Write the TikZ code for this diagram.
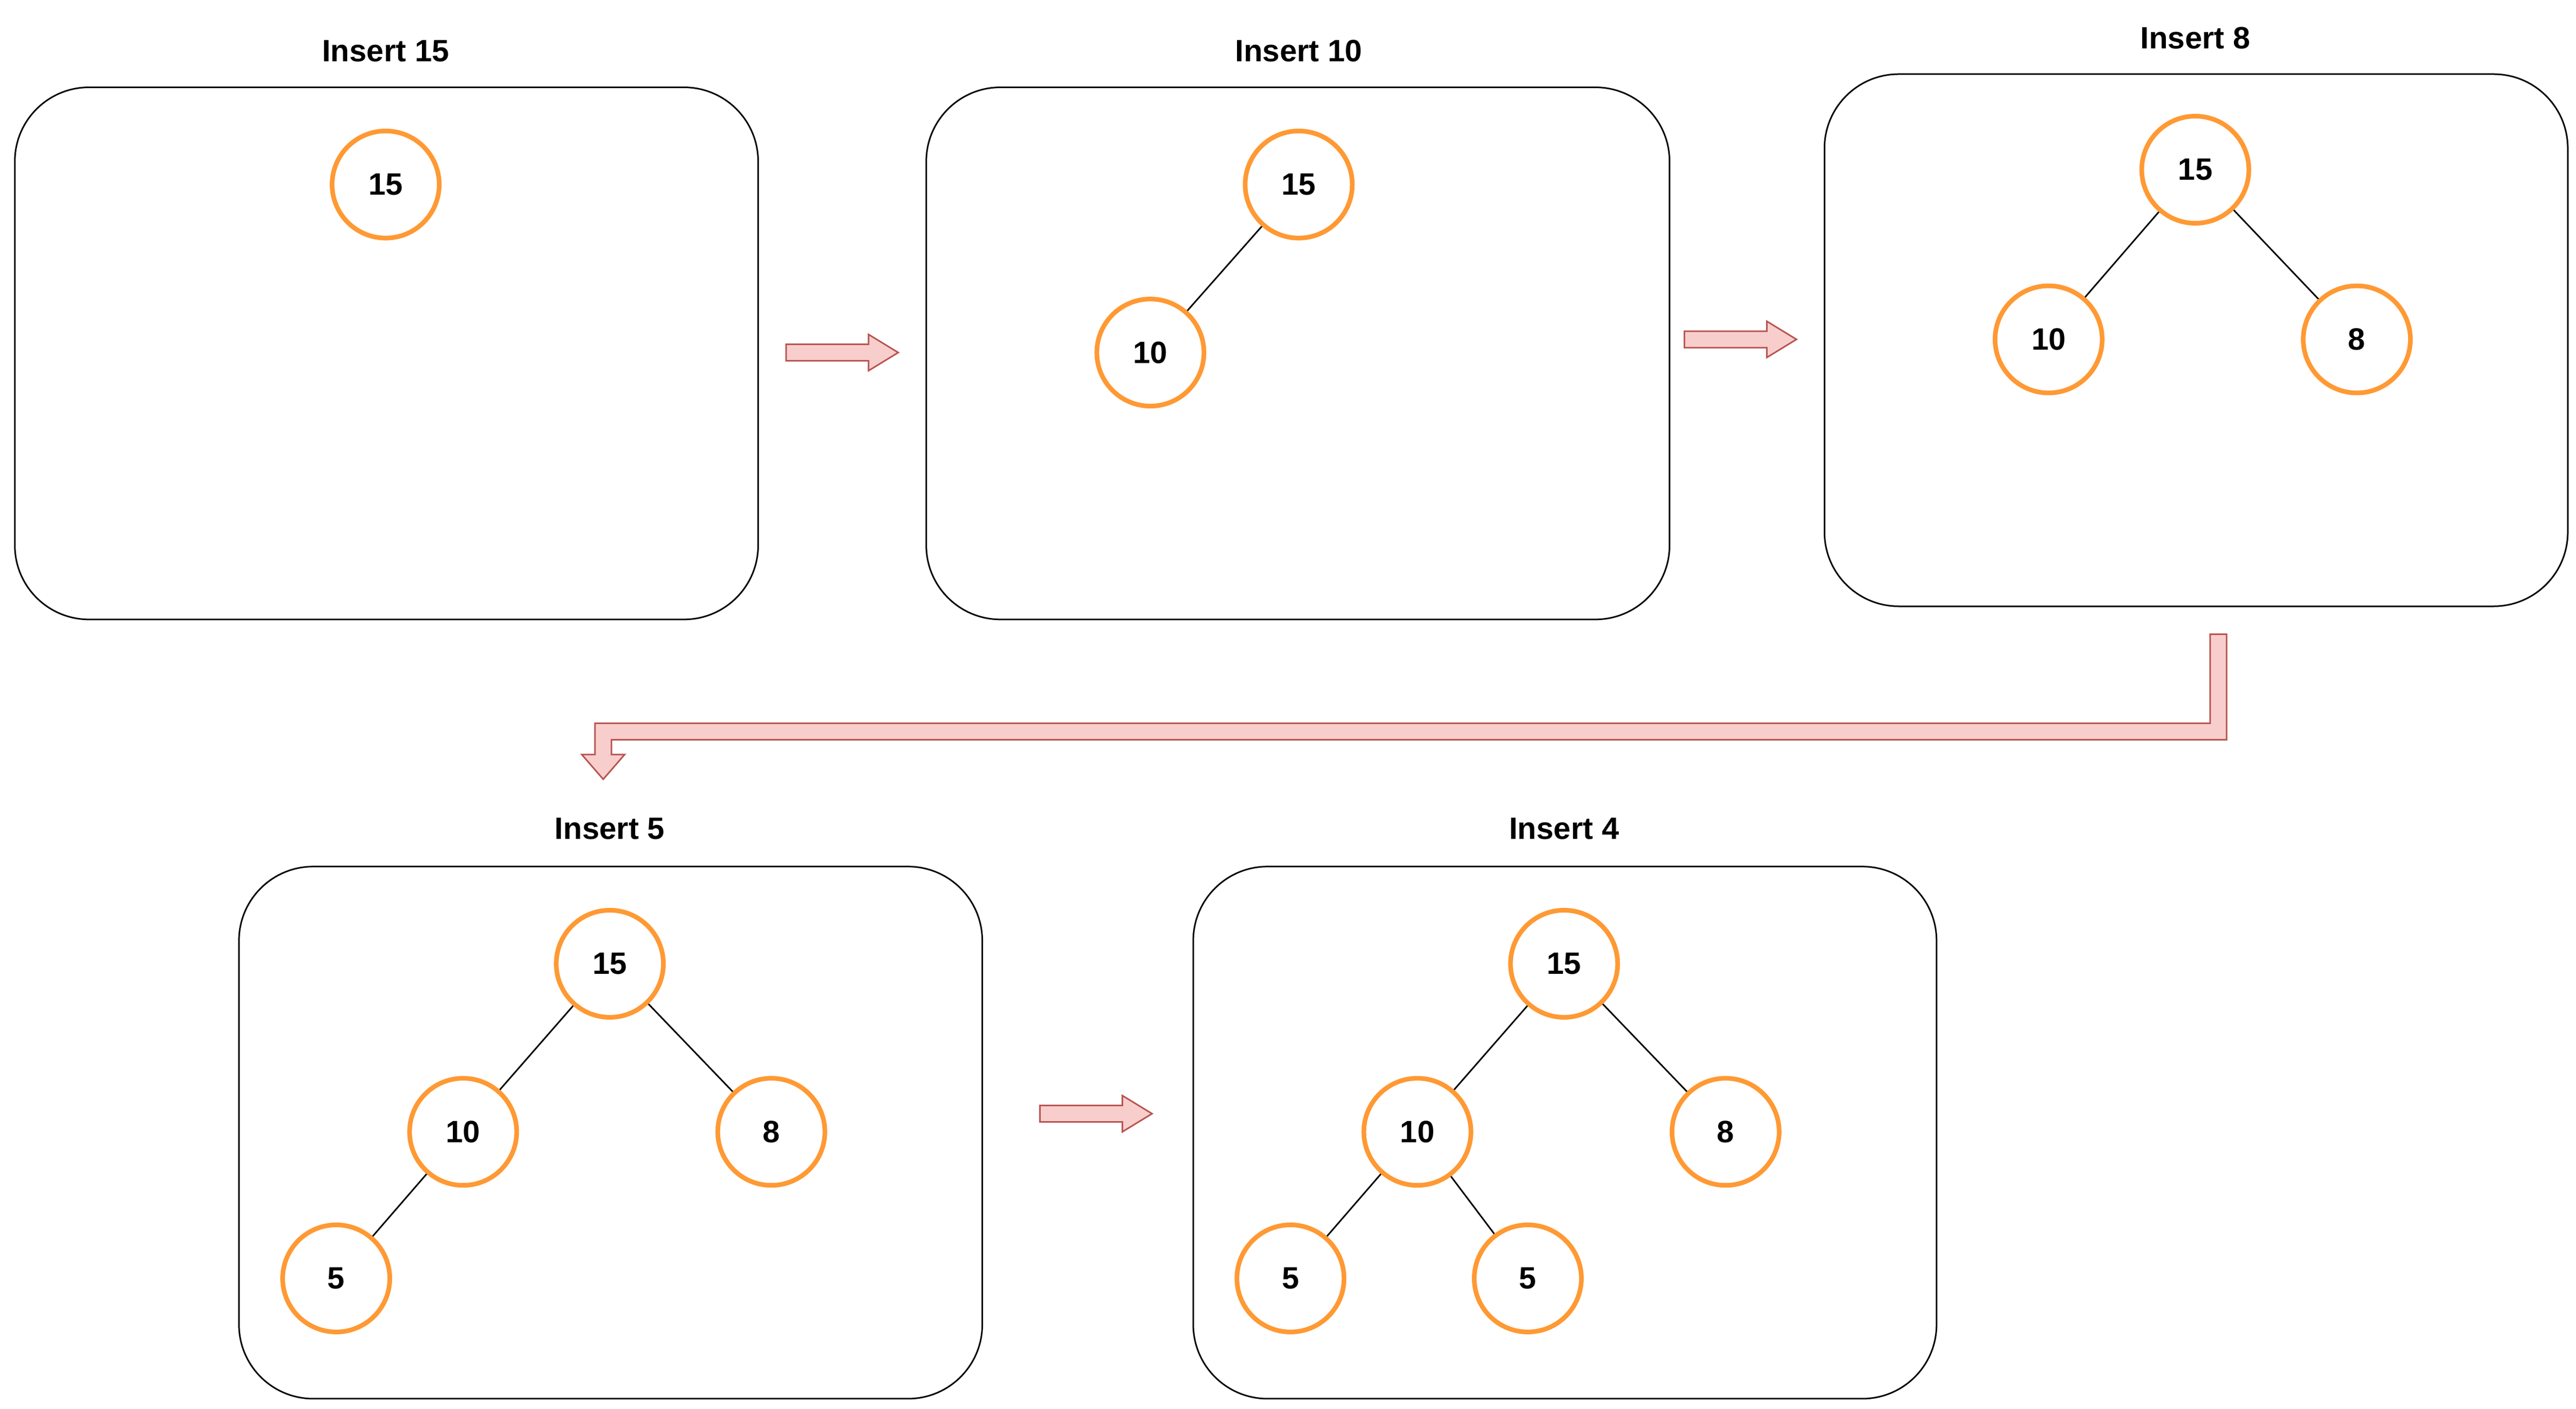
\documentclass[tikz,border=0pt]{standalone}
\usepackage{fontspec}
\setmainfont{Liberation Sans}
\definecolor{heaporange}{HTML}{FF9933}
\definecolor{arrowfill}{HTML}{F8CECC}
\definecolor{arrowdraw}{HTML}{B85450}
\tikzset{
  stage/.style={draw=black, line width=0.8pt, rounded corners=1.35cm},
  key/.style={circle, draw=heaporange, line width=2.4pt, fill=white,
    minimum size=1.95cm, inner sep=0pt, font=\fontsize{16}{19}\selectfont\bfseries},
  title/.style={font=\fontsize{16}{19}\selectfont\bfseries},
  link/.style={draw=black, line width=0.8pt},
  nextstep/.style={fill=arrowfill, draw=arrowdraw, line width=0.8pt},
}
\begin{document}
\begin{tikzpicture}[x=0.03cm,y=-0.03cm]
\useasboundingbox (0,0) rectangle (1563,855);

% stages
\draw [stage] (9,53) rectangle (460,376);
\draw [stage] (562,53) rectangle (1013,376);
\draw [stage] (1107,45) rectangle (1558,368);
\draw [stage] (145,526) rectangle (596,849);
\draw [stage] (724,526) rectangle (1175,849);

\node [title] (t1) at (234,31) {Insert 15};
\node [title] (t2) at (788,31) {Insert 10};
\node [title] (t3) at (1332,23) {Insert 8};
\node [title] (t4) at (370,503) {Insert 5};
\node [title] (t5) at (949,503) {Insert 4};

% insert 15
\node [key] (a15) at (234,112) {15};

% insert 10
\node [key] (b15) at (788,112) {15};
\node [key] (b10) at (698,214) {10};
\draw [link] (b15) -- (b10);

% insert 8
\node [key] (c15) at (1332,103) {15};
\node [key] (c10) at (1243,206) {10};
\node [key] (c8)  at (1430,206) {8};
\draw [link] (c15) -- (c10) (c15) -- (c8);

% insert 5
\node [key] (d15) at (370,585) {15};
\node [key] (d10) at (281,687) {10};
\node [key] (d8)  at (468,687) {8};
\node [key] (d5)  at (204,776) {5};
\draw [link] (d15) -- (d10) (d15) -- (d8) (d10) -- (d5);

% insert 4
\node [key] (e15) at (949,585) {15};
\node [key] (e10) at (860,687) {10};
\node [key] (e8)  at (1047,687) {8};
\node [key] (e5a) at (783,776) {5};
\node [key] (e5b) at (927,776) {5};
\draw [link] (e15) -- (e10) (e15) -- (e8) (e10) -- (e5a) (e10) -- (e5b);

% block arrows
\foreach \x/\y in {477/214, 1022/206, 631/676} {
  \draw [nextstep] (\x,\y-5) -- (\x+50,\y-5) -- (\x+50,\y-11) -- (\x+68,\y)
    -- (\x+50,\y+11) -- (\x+50,\y+5) -- (\x,\y+5) -- cycle;
}
\draw [nextstep] (1341,385) -- (1351,385) -- (1351,449) -- (371,449) -- (371,458)
  -- (379,458) -- (366,473) -- (353,458) -- (361,458) -- (361,439)
  -- (1341,439) -- cycle;

\end{tikzpicture}
\end{document}
